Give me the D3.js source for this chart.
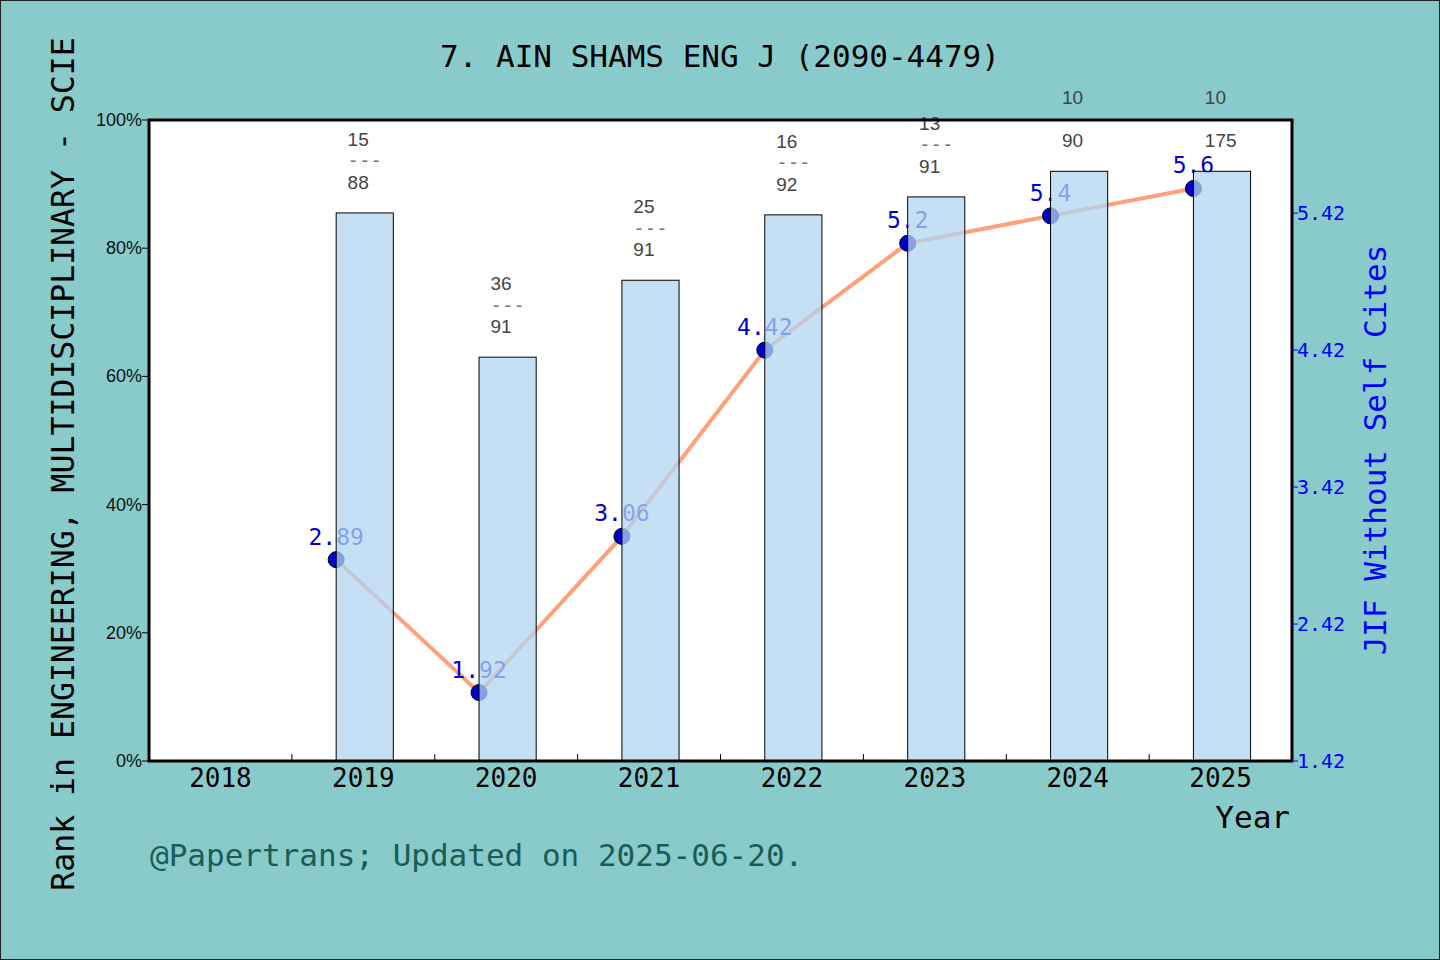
<!DOCTYPE html>
<html>
<head>
<meta charset="utf-8">
<script src="https://cdn.jsdelivr.net/npm/d3@7"></script>
<style>
  body { margin: 0; background: #88cbca; }
  svg { display: block; }
</style>
</head>
<body>
<svg id="chart" width="1440" height="960"></svg>
<script>
const years = ['2018', '2019', '2020', '2021', '2022', '2023', '2024', '2025'];
const barYears = ['2019', '2020', '2021', '2022', '2023', '2024', '2025'];
const rankPct = [85.5, 63, 75, 85.2, 88, 92, 92];
const rankNum = [15, 36, 25, 16, 13, 10, 10];
const rankTotal = [88, 91, 91, 92, 91, 90, 175];
const jif = [2.89, 1.92, 3.06, 4.42, 5.2, 5.4, 5.6];
const pctTicks = [0, 20, 40, 60, 80, 100];
const jifTicks = [1.42, 2.42, 3.42, 4.42, 5.42];

const MONO = '"DejaVu Sans Mono", monospace';
const SANS = '"Liberation Sans", Arial, sans-serif';
const plot = { left: 149, right: 1292, top: 120, bottom: 761 };

const svg = d3.select('#chart');
svg.append('rect').attr('x', 0.5).attr('y', 0.5).attr('width', 1439).attr('height', 959)
  .attr('fill', '#88cbca').attr('stroke', '#222');

const x = d3.scaleBand().domain(years).range([plot.left, plot.right]);
const bw = x.bandwidth();
const yPct = d3.scaleLinear().domain([0, 100]).range([plot.bottom, plot.top]);
const yJif = d3.scaleLinear().domain([1.42, 6.1]).range([plot.bottom, plot.top]);

const barX = yr => x(yr) + bw / 2 - 0.19 * bw;
const rows = barYears.map((yr, i) => ({
  yr, pct: rankPct[i], num: rankNum[i], total: rankTotal[i], jif: jif[i]
}));

svg.append('rect')
  .attr('x', plot.left).attr('y', plot.top)
  .attr('width', plot.right - plot.left).attr('height', plot.bottom - plot.top)
  .attr('fill', '#fff');

// line + points sit under the translucent bars
const line = d3.line().x(d => barX(d.yr)).y(d => yJif(d.jif));
svg.append('path').datum(rows)
  .attr('d', line).attr('fill', 'none')
  .attr('stroke', 'lightsalmon').attr('stroke-width', 4);
svg.selectAll('.pt').data(rows).enter().append('circle')
  .attr('class', 'pt')
  .attr('cx', d => barX(d.yr)).attr('cy', d => yJif(d.jif)).attr('r', 8)
  .attr('fill', '#0000cd').attr('stroke', '#000').attr('stroke-width', 1);
svg.selectAll('.ptlabel').data(rows).enter().append('text')
  .attr('class', 'ptlabel')
  .attr('x', d => barX(d.yr)).attr('y', d => yJif(d.jif) - 15)
  .attr('text-anchor', 'middle')
  .attr('font-family', MONO).attr('font-size', 23).attr('fill', '#0000cd')
  .text(d => d.jif);

svg.selectAll('.bar').data(rows).enter().append('rect')
  .attr('class', 'bar')
  .attr('x', d => barX(d.yr)).attr('width', 0.4 * bw)
  .attr('y', d => yPct(d.pct)).attr('height', d => plot.bottom - yPct(d.pct))
  .attr('fill', 'rgb(178,214,242)').attr('fill-opacity', 0.75)
  .attr('stroke', '#000').attr('stroke-width', 1);

// rank labels: numerator / dashes / total, left-aligned block centred on the bar
const labels = svg.selectAll('.rank').data(rows).enter().append('g').attr('class', 'rank');
labels.each(function (d) {
  const g = d3.select(this);
  const cx = barX(d.yr) + 0.2 * bw;
  const base = yPct(d.pct) - 24;
  const lines = [String(d.num), '---', String(d.total)];
  const texts = lines.map((s, k) => g.append('text')
    .attr('y', base - (2 - k) * 21.5)
    .attr('font-family', k === 1 ? MONO : SANS).attr('font-size', 19)
    .attr('fill', k === 1 ? '#777' : '#444')
    .text(s));
  const w = d3.max(texts, t => t.node().getComputedTextLength());
  texts.forEach(t => t.attr('x', cx - w / 2));
});

// frame
svg.append('rect')
  .attr('x', plot.left).attr('y', plot.top)
  .attr('width', plot.right - plot.left).attr('height', plot.bottom - plot.top)
  .attr('fill', 'none').attr('stroke', '#000').attr('stroke-width', 3);

// left axis
const left = svg.append('g');
pctTicks.forEach(t => {
  left.append('line').attr('x1', plot.left - 7).attr('x2', plot.left)
    .attr('y1', yPct(t)).attr('y2', yPct(t)).attr('stroke', '#000');
  left.append('text').attr('x', plot.left - 7).attr('y', yPct(t) + 6)
    .attr('text-anchor', 'end').attr('font-family', SANS).attr('font-size', 18)
    .attr('fill', '#111').text(t + '%');
});

// right axis
const right = svg.append('g');
jifTicks.forEach(t => {
  right.append('line').attr('x1', plot.right).attr('x2', plot.right + 6)
    .attr('y1', yJif(t)).attr('y2', yJif(t)).attr('stroke', '#0000ff');
  right.append('text').attr('x', plot.right + 5).attr('y', yJif(t) + 7)
    .attr('font-family', MONO).attr('font-size', 20)
    .attr('fill', '#0000ff').text(t.toFixed(2));
});

// bottom axis
const bottom = svg.append('g');
years.slice(1).forEach(yr => {
  bottom.append('line').attr('x1', x(yr)).attr('x2', x(yr))
    .attr('y1', plot.bottom).attr('y2', plot.bottom - 7).attr('stroke', '#000');
});
years.forEach(yr => {
  bottom.append('text').attr('x', x(yr) + bw / 2).attr('y', plot.bottom + 26)
    .attr('text-anchor', 'middle').attr('font-family', MONO).attr('font-size', 26)
    .attr('fill', '#000').text(yr);
});

svg.append('text').attr('x', 1290).attr('y', 828).attr('text-anchor', 'end')
  .attr('font-family', MONO).attr('font-size', 31).attr('fill', '#000').text('Year');

svg.append('text').attr('x', 720).attr('y', 67).attr('text-anchor', 'middle')
  .attr('font-family', MONO).attr('font-size', 31).attr('fill', '#000')
  .text('7. AIN SHAMS ENG J (2090-4479)');

svg.append('text').attr('transform', 'translate(74,464) rotate(-90)')
  .attr('text-anchor', 'middle').attr('font-family', MONO).attr('font-size', 31.5)
  .attr('fill', '#000').text('Rank in ENGINEERING, MULTIDISCIPLINARY - SCIE');

svg.append('text').attr('transform', 'translate(1386,450) rotate(-90)')
  .attr('text-anchor', 'middle').attr('font-family', MONO).attr('font-size', 31)
  .attr('fill', '#0000ff').text('JIF Without Self Cites');

svg.append('text').attr('x', 150).attr('y', 866)
  .attr('font-family', MONO).attr('font-size', 31).attr('fill', '#1a5c57')
  .text('@Papertrans; Updated on 2025-06-20.');
</script>
</body>
</html>
